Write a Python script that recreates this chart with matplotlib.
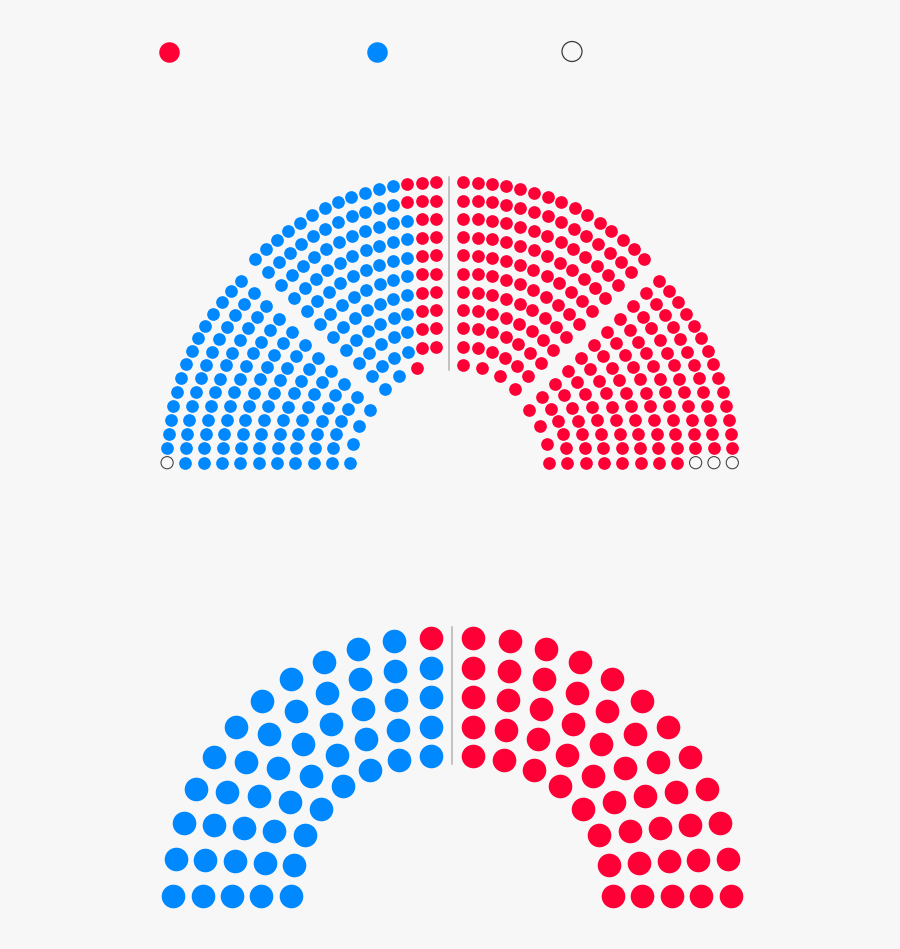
import numpy as np
import matplotlib
matplotlib.use("Agg")
import matplotlib.pyplot as plt

# ---------------- data ----------------
party_names = ["Republican", "Democrat", "Vacant"]
party_colors = {"Republican": "#ff0036", "Democrat": "#0088ff", "Vacant": "none"}

# House: seat fill order runs left -> right across the hemicycle
house_order_parties = ["Vacant", "Democrat", "Republican", "Vacant"]
house_order_counts = [1, 193, 238, 3]
house_rows = [4, 6, 7, 8, 9, 10, 11, 12, 13, 14, 15]   # seats per row in each of 4 sections

# Senate
senate_order_parties = ["Democrat", "Republican"]
senate_order_counts = [49, 51]
senate_rows = [8, 9, 10, 11, 12]                          # seats per row in each half

# ---------------- layout helpers ----------------
BG = "#f7f7f7"
EDGE = "#3c3c3c"


def section(cx, cy, r0, dr, counts, anchor, end_fn, axis=None):
    """Seats of one wedge; ordered by column from the anchor edge, outer rows first."""
    seats = []
    for k, n in enumerate(counts):
        r = r0 + dr * k
        end = end_fn(r)
        angs = np.radians(np.linspace(anchor, end, n))
        for j, a in enumerate(angs):
            x = cx + r * np.cos(a)
            y = cy - r * np.sin(a)
            if axis is not None:
                x = 2 * axis - x
            seats.append((j, -k, x, y, k))
    seats.sort(key=lambda s: (s[0], s[1]))
    return seats


def fill(seq, parties, counts):
    labels = []
    for p, c in zip(parties, counts):
        labels += [p] * c
    return list(zip(seq, labels))


fig = plt.figure(figsize=(9, 9.49), dpi=100, facecolor=BG)
ax = fig.add_axes([0, 0, 1, 1])
ax.set_facecolor(BG)
ax.set_xlim(0, 900)
ax.set_ylim(949, 0)
ax.axis("off")

# ---------------- House ----------------
HAX = 449.7
end_fn = lambda r: 45 - np.degrees(np.arcsin(5.0 / r))
ru = section(HAX + 13.6, 432.8, 67.8, 18.27, house_rows, 90, end_fn)
rl = section(HAX + 19.9, 462.7, 79.4, 18.33, house_rows, 0, end_fn)
lu = section(HAX + 13.6, 432.8, 67.8, 18.27, house_rows, 90, end_fn, axis=HAX)
ll = section(HAX + 19.9, 462.7, 79.4, 18.33, house_rows, 0, end_fn, axis=HAX)
# one seat of the innermost upper-left row is not drawn (435 seats)
lu = [s for s in lu if not (s[4] == 0 and s[0] == 0)]

house_seq = ll + lu[::-1] + ru + rl[::-1]
house = fill(house_seq, house_order_parties, house_order_counts)

S_HOUSE = (12.7 * 0.72) ** 2
for p in party_names:
    pts = [(s[2], s[3]) for s, lab in house if lab == p]
    if not pts:
        continue
    xs, ys = zip(*pts)
    if p == "Vacant":
        ax.scatter(xs, ys, s=S_HOUSE * 0.92, facecolors="none", edgecolors=EDGE,
                   linewidths=0.75, zorder=3)
    else:
        ax.scatter(xs, ys, s=S_HOUSE, c=party_colors[p], linewidths=0, zorder=3)

ax.plot([449.4, 449.4], [176.5, 369.5], color="#b4b4b4", lw=1.1, zorder=2)

# ---------------- Senate ----------------
SAX = 451.9
sr = section(SAX + 21.4, 895.7, 139.7, 29.43, senate_rows, 90, lambda r: 0)
sl = section(SAX + 21.4, 895.7, 139.7, 29.43, senate_rows, 90, lambda r: 0, axis=SAX)
senate_seq = sl[::-1] + sr
senate = fill(senate_seq, senate_order_parties, senate_order_counts)

S_SEN = (23.6 * 0.72) ** 2
for p in party_names:
    pts = [(s[2], s[3]) for s, lab in senate if lab == p]
    if not pts:
        continue
    xs, ys = zip(*pts)
    ax.scatter(xs, ys, s=S_SEN, c=party_colors[p], linewidths=0, zorder=3)

ax.plot([452.3, 452.3], [627, 764], color="#b4b4b4", lw=1.1, zorder=2)

# ---------------- legend markers ----------------
S_LEG = (20.5 * 0.72) ** 2
leg_x = [168.5, 377, 572]
for p, x in zip(party_names, leg_x):
    if p == "Vacant":
        ax.scatter([x], [51.5], s=S_LEG * 0.95, facecolors="none", edgecolors=EDGE,
                   linewidths=0.9, zorder=3)
    else:
        ax.scatter([x], [51.5], s=S_LEG, c=party_colors[p], linewidths=0, zorder=3)

fig.savefig("out.png", dpi=100, facecolor=BG)
